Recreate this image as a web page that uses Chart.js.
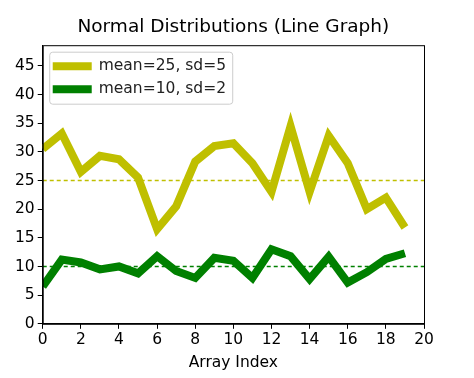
<!DOCTYPE html>
<html>
<head>
<meta charset="utf-8">
<script src="https://cdn.jsdelivr.net/npm/chart.js@4"></script>
<style>
body { margin: 0; background: #fff; }
</style>
</head>
<body>
<canvas id="myChart" width="474" height="378"></canvas>
<script>
// data
const arrayIndex = [0, 1, 2, 3, 4, 5, 6, 7, 8, 9, 10, 11, 12, 13, 14, 15, 16, 17, 18, 19];
const series25 = [30.5, 33.2, 26.5, 29.3, 28.7, 25.5, 16.5, 20.5, 28.3, 31.0, 31.5, 28.0, 23.0, 34.5, 23.0, 32.8, 28.0, 20.0, 22.0, 16.8];
const series10 = [6.5, 11.2, 10.7, 9.5, 10.0, 8.8, 11.8, 9.2, 8.0, 11.5, 11.0, 8.0, 13.0, 11.8, 7.8, 11.7, 7.2, 9.0, 11.3, 12.3];
const labels = ['mean=25, sd=5', 'mean=10, sd=2'];
const means = [25, 10];
const xRange = [0, 20];
const yTicks = [0, 5, 10, 15, 20, 25, 30, 35, 40, 45];
const titleText = 'Normal Distributions (Line Graph)';

const yellow = '#bfbf00';
const green = '#008000';
const font = 'DejaVu Sans';

const toPoints = (vals) => vals.map((v, i) => ({x: arrayIndex[i], y: v}));
const meanLine = (m) => xRange.map(x => ({x: x, y: m}));

// frame, title over the axes, and legend inside the plot, like matplotlib
const framePlugin = {
	id: 'frame',
	afterDraw(chart) {
		const c = chart.ctx;
		const a = chart.chartArea;
		c.save();
		c.strokeStyle = '#000';
		c.lineWidth = 1;
		c.strokeRect(a.left + 0.5, a.top + 0.5, a.right - a.left, a.bottom - a.top);

		// title centred on the axes, not the canvas
		c.fillStyle = '#000';
		c.font = '18.5px "' + font + '"';
		c.textAlign = 'center';
		c.textBaseline = 'middle';
		c.fillText(titleText, (a.left + a.right) / 2, 27);

		// legend box
		const bx = a.left + 7, by = a.top + 7, bw = 183, bh = 52;
		c.fillStyle = 'rgba(255,255,255,0.8)';
		c.strokeStyle = '#ccc';
		c.beginPath();
		c.roundRect(bx, by, bw, bh, 3);
		c.fill();
		c.stroke();
		const cols = [yellow, green];
		c.font = '15.5px "' + font + '"';
		c.textAlign = 'left';
		for (let i = 0; i < labels.length; i++) {
			const ly = by + 14 + i * 23;
			c.strokeStyle = cols[i];
			c.lineWidth = 8;
			c.beginPath();
			c.moveTo(bx + 3, ly);
			c.lineTo(bx + 42, ly);
			c.stroke();
			c.fillStyle = '#222';
			c.fillText(labels[i], bx + 49, ly);
		}
		c.restore();
	}
};

const data = {
	datasets: [
		{label: labels[0], data: toPoints(series25), borderColor: yellow, borderWidth: 8, pointRadius: 0, borderJoinStyle: 'miter', order: 1},
		{label: labels[1], data: toPoints(series10), borderColor: green, borderWidth: 8, pointRadius: 0, borderJoinStyle: 'miter', order: 1},
		{label: 'm25', data: meanLine(means[0]), borderColor: yellow, borderWidth: 1.5, borderDash: [4, 3], pointRadius: 0, order: 0},
		{label: 'm10', data: meanLine(means[1]), borderColor: green, borderWidth: 1.5, borderDash: [4, 3], pointRadius: 0, order: 0}
	]
};

const config = {
	type: 'line',
	data: data,
	options: {
		responsive: false,
		animation: false,
		layout: {padding: {left: 12, right: 50, top: 0, bottom: 2}},
		plugins: {
			legend: {display: false},
			tooltip: {enabled: false},
			title: {
				// keeps the space, the text itself is drawn by framePlugin
				display: true,
				text: titleText,
				color: 'rgba(0,0,0,0)',
				font: {family: font, size: 18.5, weight: 'normal'},
				padding: {top: 15, bottom: 8}
			}
		},
		scales: {
			x: {
				type: 'linear',
				min: xRange[0],
				max: xRange[1],
				ticks: {stepSize: 2, color: '#000', font: {family: font, size: 15.5}, maxRotation: 0, padding: 2},
				grid: {drawOnChartArea: false, drawTicks: true, tickLength: 5, color: '#000'},
				border: {display: true, color: '#000'},
				title: {display: true, text: 'Array Index', color: '#000', font: {family: font, size: 15.5}, padding: {top: 2}}
			},
			y: {
				min: 0,
				max: 48.6,
				afterBuildTicks(axis) { axis.ticks = yTicks.map(v => ({value: v})); },
				ticks: {color: '#000', font: {family: font, size: 15.5}, padding: 3},
				grid: {drawOnChartArea: false, drawTicks: true, tickLength: 5, color: '#000'},
				border: {display: true, color: '#000'}
			}
		}
	},
	plugins: [framePlugin]
};

const myChart = new Chart(document.getElementById('myChart').getContext('2d'), config);
</script>
</body>
</html>
